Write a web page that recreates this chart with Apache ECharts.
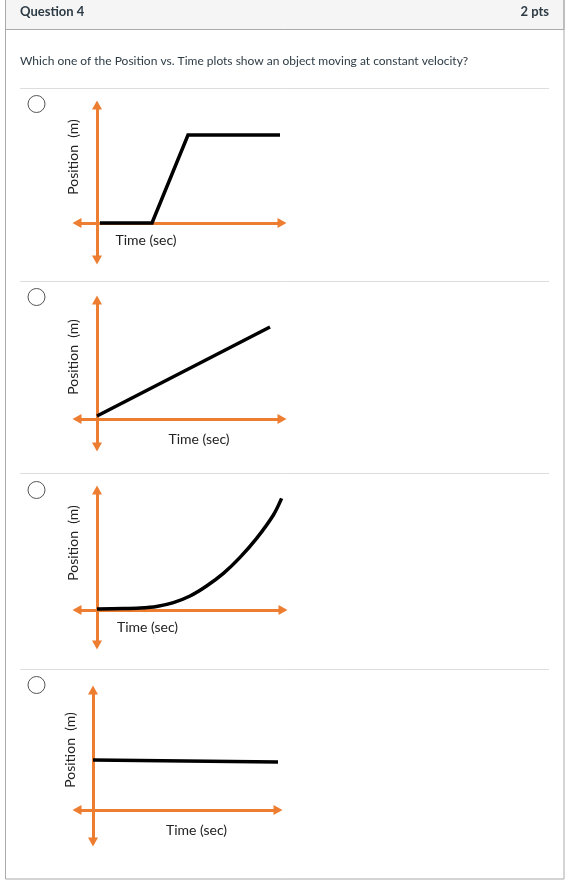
<!DOCTYPE html>
<html><head><meta charset="utf-8">
<script src="https://cdn.jsdelivr.net/npm/echarts@6/dist/echarts.min.js"></script>
<style>html,body{margin:0;padding:0;background:#fff;overflow:hidden}#c{width:574px;height:887px}</style>
</head><body><div id="c"></div>
<script>
// ---- text ----
const questionTitle = 'Question 4';
const questionPoints = '2 pts';
const questionText = 'Which one of the Position vs. Time plots show an object moving at constant velocity?';
const xAxisName = 'Time (sec)';
const yAxisName = 'Position  (m)';

// ---- data (time, position) ----
const plot1Time = [0.15, 2.75, 4.55, 9.15];
const plot1Pos  = [0, 0, 4.4, 4.4];
const plot2Time = [0, 8.65];
const plot2Pos  = [0.15, 4.6];
const plot3Time = [0, 1.32, 2.15, 2.98, 3.82, 4.65, 5.48, 6.32, 7.15, 7.98, 8.82, 9.23];
const plot3Pos  = [0.05, 0.07, 0.1, 0.18, 0.37, 0.7, 1.2, 1.83, 2.63, 3.58, 4.75, 5.58];
const plot4Time = [0, 9.25];
const plot4Pos  = [2.5, 2.4];

// axis ranges per plot
const xMins = [-1, -1, -1, -0.8];
const xMaxs = [9.25, 9.25, 9.3, 9.25];
const yMins = [-1.85, -1.4, -1.75, -1.6];
const yMaxs = [5.9, 5.95, 6.0, 6.0];

const plotTimes = [plot1Time, plot2Time, plot3Time, plot4Time];
const plotPos = [plot1Pos, plot2Pos, plot3Pos, plot4Pos];

// ---- layout / style ----
const grids = [
  {left: 77, top: 105, width: 205, height: 155},
  {left: 77, top: 300, width: 205, height: 147},
  {left: 77, top: 490, width: 206, height: 155},
  {left: 77, top: 690, width: 201, height: 152}
];
const xNameGap = [-27, -15, -25, -19];
const xNamePad = [[0, 67, 0, 0], [0, 0, 0, 39], [0, 65, 0, 0], [0, 0, 0, 38]];
const yNameGap = [-3, -3, -3, 0];
const yNamePad = [[0, 0, 0, 51], [0, 0, 0, 33], [0, 0, 0, 49], [0, 0, 0, 32]];
const radioY = [104, 297, 490, 685];
const sepY = [88, 281, 473, 669];
const ORANGE = '#ED7D31';
const FONT = 'Lato, "Noto Sans", sans-serif';

const xAxes = [], yAxes = [], series = [];
for (let i = 0; i < 4; i++) {
  const axisLine = {
    onZero: true,
    symbol: ['triangle', 'triangle'],
    symbolSize: [10, 9],
    lineStyle: {color: ORANGE, width: 3}
  };
  xAxes.push({
    gridIndex: i, type: 'value', min: xMins[i], max: xMaxs[i],
    axisLine: axisLine, axisTick: {show: false}, axisLabel: {show: false}, splitLine: {show: false},
    name: xAxisName, nameLocation: 'middle', nameGap: xNameGap[i],
    nameTextStyle: {fontFamily: FONT, fontSize: 14, color: '#222', padding: xNamePad[i]}
  });
  yAxes.push({
    gridIndex: i, type: 'value', min: yMins[i], max: yMaxs[i],
    axisLine: axisLine, axisTick: {show: false}, axisLabel: {show: false}, splitLine: {show: false},
    name: yAxisName, nameLocation: 'middle', nameGap: yNameGap[i],
    nameTextStyle: {fontFamily: FONT, fontSize: 14, color: '#222', padding: yNamePad[i]}
  });
  series.push({
    type: 'line', xAxisIndex: i, yAxisIndex: i,
    data: plotTimes[i].map((t, k) => [t, plotPos[i][k]]),
    showSymbol: false, symbol: 'none', clip: false,
    smooth: i === 2 ? 0.3 : false,
    lineStyle: {color: '#000', width: 3.5, cap: 'butt', join: 'miter'},
    z: 5, silent: true, animation: false
  });
}

const graphic = [
  {type: 'rect', shape: {x: 5.5, y: -1, width: 558.5, height: 30.5}, style: {fill: '#f5f5f5', stroke: '#aaa', lineWidth: 1}, z: -10},
  {type: 'rect', shape: {x: 5.5, y: -1, width: 558.5, height: 880}, style: {fill: 'none', stroke: '#aaa', lineWidth: 1}, z: -9},
  {type: 'text', left: 20, top: 5, style: {text: questionTitle, font: 'bold 13px ' + FONT, fill: '#2d3b45'}},
  {type: 'text', right: 574 - 549, top: 5, style: {text: questionPoints, font: 'bold 13px ' + FONT, fill: '#2d3b45'}},
  {type: 'text', left: 20, top: 55, style: {text: questionText, font: '12px ' + FONT, fill: '#2d3b45'}}
];
sepY.forEach(y => graphic.push({type: 'line', shape: {x1: 20, y1: y + 0.5, x2: 549, y2: y + 0.5}, style: {stroke: '#ddd', lineWidth: 1}, z: -5}));
radioY.forEach(y => graphic.push({type: 'circle', shape: {cx: 36.5, cy: y, r: 8.5}, style: {fill: '#fff', stroke: '#555', lineWidth: 1}}));

const chart = echarts.init(document.getElementById('c'), null, {renderer: 'canvas'});
chart.setOption({
  animation: false,
  backgroundColor: '#fff',
  grid: grids,
  xAxis: xAxes,
  yAxis: yAxes,
  series: series,
  graphic: graphic
});
</script></body></html>
